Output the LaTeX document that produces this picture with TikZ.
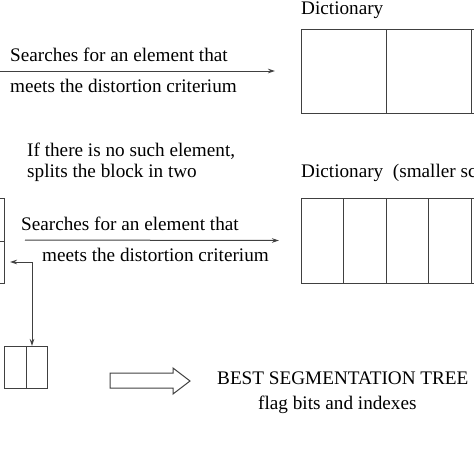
\documentclass[tikz,border=0pt]{standalone}
\usepackage{fontspec}
\setmainfont{Liberation Serif}
\usetikzlibrary{arrows.meta}
\tikzset{
  ln/.style={draw=black!75, line width=1pt},
  cell/.style={ln, rectangle, inner sep=0pt, outer sep=0pt},
  lbl/.style={anchor=base west, inner sep=0pt, font=\fontsize{19.2}{23}\selectfont},
  arr/.style={ln, -{Stealth[length=7pt,width=4.5pt]}},
  darr/.style={ln, {Stealth[length=7pt,width=4.5pt]}-{Stealth[length=7pt,width=4.5pt]}},
}
\begin{document}
\begin{tikzpicture}[x=1pt,y=-1pt]
\clip (0,0) rectangle (474,474);
% top dictionary
\node[cell, minimum width=85pt, minimum height=84pt] (d1a) at (343.5,71) {};
\node[cell, minimum width=85pt, minimum height=84pt] (d1b) at (428.5,71) {};
\node[cell, minimum width=85pt, minimum height=84pt] (d1c) at (513.5,71) {};
% bottom dictionary
\foreach \i/\x in {a/322.25,b/364.75,c/407.25,d/449.75,e/492.25}
  \node[cell, minimum width=42.5pt, minimum height=85pt] (d2\i) at (\x,240.5) {};
% left block (split in two)
\node[cell, minimum width=44pt, minimum height=43pt] (lb1) at (-18,219.5) {};
\node[cell, minimum width=44pt, minimum height=42pt] (lb2) at (-18,262) {};
% small block
\node[cell, minimum width=22pt, minimum height=42pt] (sb1) at (15,367) {};
\node[cell, minimum width=21pt, minimum height=42pt] (sb2) at (36.5,367) {};
% texts
\node[lbl] (t1) at (301,14) {Dictionary};
\node[lbl] (t2) at (10,61) {Searches for an element that};
\node[lbl] (t3) at (10,92.5) {meets the distortion criterium};
\node[lbl] (t4) at (27,156.5) {If there is no such element,};
\node[lbl] (t5) at (27,177) {splits the block in two};
\node[lbl] (t6) at (301,177.5) {Dictionary~~(smaller sc};
\node[lbl] (t7) at (21,230.5) {Searches for an element that};
\node[lbl] (t8) at (42,261.5) {meets the distortion criterium};
\node[lbl] (t9) at (217,384) {BEST SEGMENTATION TREE};
\node[lbl] (t10) at (258,409) {flag bits and indexes};
% arrows
\coordinate (a1s) at (0,71);
\coordinate (a1e) at ([xshift=-26pt]d1a.west);
\draw[arr] (a1s) -- (a1e);
\coordinate (a2s) at (25,240);
\coordinate (a2e) at ([xshift=-22pt]d2a.west);
\draw[arr] (a2s) -- (a2e);
\coordinate (e1) at ([xshift=6pt]lb2.east);
\coordinate (e2) at (32,346);
\draw[darr] (e1) -| (e2);
% block arrow
\draw[ln] (110,373) -- (173,373) -- (173,368) -- (190,381) -- (173,394) -- (173,388) -- (110,388) -- cycle;
\end{tikzpicture}
\end{document}
